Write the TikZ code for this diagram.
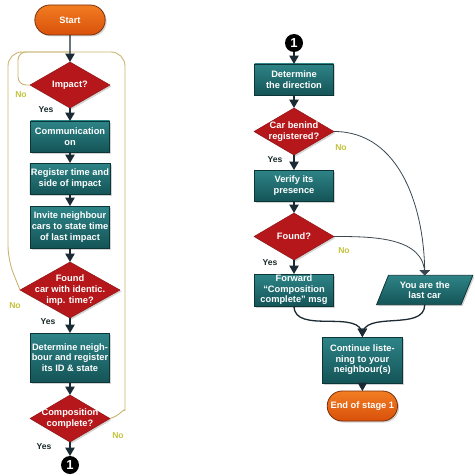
\documentclass[tikz,border=0pt]{standalone}
\usepackage{fontspec}
\setsansfont{Liberation Sans}
\usepackage{tikz}
\usetikzlibrary{shapes}
\usetikzlibrary{arrows}
\usetikzlibrary{shadows}
\usetikzlibrary{calc}
\usetikzlibrary{positioning}
\definecolor{box-top}{HTML}{2E8487}
\definecolor{box-bot}{HTML}{145457}
\definecolor{box-line}{HTML}{0C3538}
\definecolor{dia-fill}{HTML}{B5171B}
\definecolor{dia-line}{HTML}{8A1010}
\definecolor{term-top}{HTML}{F27D22}
\definecolor{term-bot}{HTML}{D9500B}
\definecolor{term-line}{HTML}{7A3008}
\definecolor{ln-col}{HTML}{1C2A33}
\definecolor{thin-col}{HTML}{3A4750}
\definecolor{loop-col}{HTML}{C8B46E}
\definecolor{no-col}{HTML}{C4C23C}
\definecolor{yes-col}{HTML}{1B2B2B}
\newcommand{\boxfont}{\sffamily\bfseries\fontsize{9.3}{10.6}\selectfont}
\newcommand{\tagfont}{\sffamily\bfseries\fontsize{8.6}{10}\selectfont}
\tikzset{node distance=12pt, every text node part/.style={align=center}}
\tikzstyle{shade} = [drop shadow={shadow xshift=1.5pt, shadow yshift=-1.5pt, opacity=0.35}]
\tikzstyle{ln} = [draw=ln-col, line width=1.3pt, arrows={-triangle 60}]
\tikzstyle{thinln} = [draw=thin-col, line width=0.8pt, arrows={-triangle 90}]
\tikzstyle{loopln} = [draw=loop-col, line width=0.9pt]

\begin{document}
\begin{tikzpicture}[x=1pt, y=1pt,
        box/.style={rectangle, draw=box-line, top color=box-top, bottom color=box-bot, thick, minimum width=79pt, minimum height=31pt, inner sep=1pt, outer sep=0pt, text=white, font=\boxfont, shade},
        dia/.style={diamond, draw=dia-line, fill=dia-fill, thin, minimum width=80pt, minimum height=46pt, inner sep=0pt, outer sep=0pt, shade},
        term/.style={rounded rectangle, draw=term-line, top color=term-top, bottom color=term-bot, thick, minimum width=77pt, minimum height=30pt, outer sep=0pt, text=white, font=\boxfont, shade},
        para/.style={trapezium, trapezium left angle=68, trapezium right angle=112, draw=box-line, top color=box-top, bottom color=box-bot, thick, inner xsep=11.3pt, inner ysep=6pt, outer sep=0pt, text=white, font=\boxfont, shade},
        con/.style={circle, fill=black, text=white, minimum size=18pt, inner sep=0pt, outer sep=0pt, font=\sffamily\bfseries\fontsize{13}{13}\selectfont},
        dtext/.style={text=white, font=\boxfont, align=center},
        yes/.style={text=yes-col, font=\tagfont, inner sep=1pt},
        no/.style={text=no-col, font=\tagfont, inner sep=1pt}
      ]
      \useasboundingbox (0,0) rectangle (474,-476);
      % left column
      \node[term]              (start) at (70,-20)             {Start};
      \node[dia, label={[dtext]center:Impact?}] (impact)[below=27pt of start] {};
      \node[box]               (comm)[below=13pt of impact]    {Communication\\on};
      \node[box]               (reg)[below=11pt of comm]       {Register time and\\side of impact};
      \node[box, minimum height=42pt] (inv)[below=12pt of reg] {Invite neighbour\\cars to state time\\of last impact};
      \node[dia, minimum width=100pt, minimum height=56pt, label={[dtext]center:Found\\car with identic.\\imp. time?}] (found)[below=14pt of inv] {};
      \node[box, minimum height=49pt] (det)[below=15pt of found] {Determine neigh-\\bour and register\\its ID \& state};
      \node[dia, minimum height=47pt, label={[dtext]center:Composition\\complete?}] (comp)[below=13pt of det] {};
      \node[con]               (c1)[below=14pt of comp]        {1};
      % right column
      \node[con]               (c2) at (294,-43)               {1};
      \node[box]               (dir)[below=12pt of c2]         {Determine\\the direction};
      \node[dia, minimum height=47pt, label={[dtext]center:Car benind\\registered?}] (car)[below=13pt of dir] {};
      \node[box]               (ver)[below=15pt of car]        {Verify its\\presence};
      \node[dia, minimum height=47pt, label={[dtext]center:Found?}] (fnd)[below=12pt of ver] {};
      \node[box, minimum height=32pt] (fwd)[below=14pt of fnd] {Forward\\“Composition\\complete” msg};
      \node[para]              (last)[right=49pt of fwd]       {You are the\\last car};
      \node[box, minimum width=80pt, minimum height=46pt] (cont) at ($(fwd)!0.5!(last)+(3,-70)$) {Continue liste-\\ning to your\\neighbour(s)};
      \node[term]              (fin)[below=8pt of cont]        {End of stage 1};
      % loops back to the top
      \coordinate              (merge) at ($(start.south)+(0,-17)$);
      \draw[loopln, rounded corners=8pt]  (impact.west) -- ++(-12,0) |- (merge);
      \draw[loopln, rounded corners=14pt] (found.west) -- ++(-12,30) |- (merge);
      \draw[loopln, rounded corners=14pt] (comp.east) to[out=15, in=-90] ++(15,22) |- (merge);
      \draw[ln]                (start)  -- (impact);
      \draw[ln]                (impact) -- node[yes, pos=0.1, left=15pt] (y1) {Yes} (comm);
      \draw[ln]                (comm)   -- (reg);
      \draw[ln]                (reg)    -- (inv);
      \draw[ln]                (inv)    -- (found);
      \draw[ln]                (found)  -- node[yes, pos=0.27, left=13pt] (y2) {Yes} (det);
      \draw[ln]                (det)    -- (comp);
      \draw[ln]                (comp)   -- node[yes, pos=0.3, left=17pt] (y3) {Yes} (c1);
      \node[no]                (n1) at ($(impact.west)+(-9,-10)$) {No};
      \node[no]                (n2) at ($(found.west)+(-5,-16)$)  {No};
      \node[no]                (n3) at ($(comp.east)+(8,-17)$)    {No};
      % right edges
      \draw[ln]                (c2)  -- (dir);
      \draw[ln]                (dir) -- (car);
      \draw[ln]                (car) -- node[yes, pos=0.33, left=10pt] (y4) {Yes} (ver);
      \draw[ln]                (ver) -- (fnd);
      \draw[ln]                (fnd) -- node[yes, pos=0.15, left=15pt] (y5) {Yes} (fwd);
      \draw[thinln]            (car.east) to[out=0, in=90] (last);
      \draw[thinln]            (fnd.east) to[out=0, in=90] (last);
      \draw[ln]                (fwd)  to[out=-90, in=90] (cont);
      \draw[ln]                (last) to[out=-90, in=90] (cont);
      \draw[ln]                (cont) -- (fin);
      \node[no]                (n4) at ($(car.east)+(7,-16)$)  {No};
      \node[no]                (n5) at ($(fnd.east)+(10,-14)$) {No};
    \end{tikzpicture}
\end{document}
